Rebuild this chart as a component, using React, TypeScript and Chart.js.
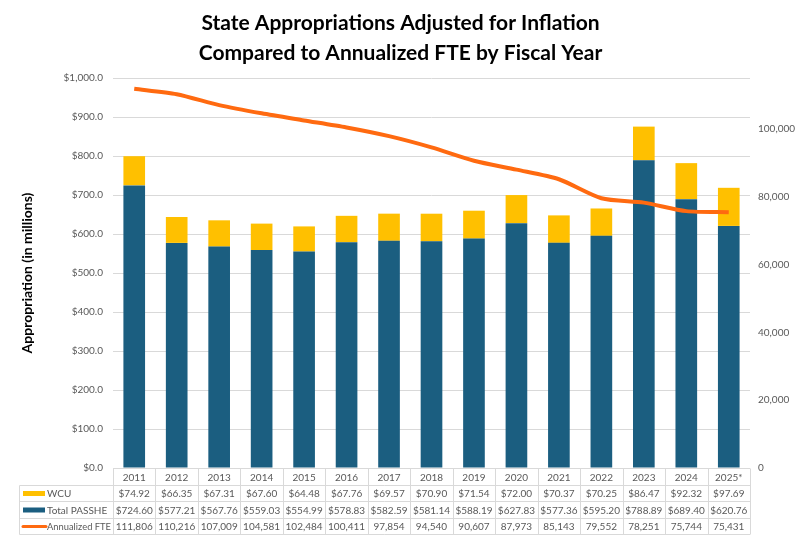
import React, { useEffect, useRef } from 'react';
import { Chart, registerables } from 'chart.js';

Chart.register(...registerables);

const years = ['2011', '2012', '2013', '2014', '2015', '2016', '2017', '2018', '2019', '2020', '2021', '2022', '2023', '2024', '2025*'];
const wcu = [74.92, 66.35, 67.31, 67.6, 64.48, 67.76, 69.57, 70.9, 71.54, 72.0, 70.37, 70.25, 86.47, 92.32, 97.69];
const passhe = [724.6, 577.21, 567.76, 559.03, 554.99, 578.83, 582.59, 581.14, 588.19, 627.83, 577.36, 595.2, 788.89, 689.4, 620.76];
const fte = [111806, 110216, 107009, 104581, 102484, 100411, 97854, 94540, 90607, 87973, 85143, 79552, 78251, 75744, 75431];
const leftTicks = [0, 100, 200, 300, 400, 500, 600, 700, 800, 900, 1000];
const rightTicks = [0, 20000, 40000, 60000, 80000, 100000];

const GOLD = '#FFC000';
const BLUE = '#1B5E80';
const ORANGE = '#FF6A10';
const GRID = '#D9D9D9';
const TEXT = '#595959';
const FONT = 'Lato';
const SMALL_SIZE = 10;

const money = (v: number) =>
  '$' + v.toLocaleString('en-US', { minimumFractionDigits: 2, maximumFractionDigits: 2 });

const tablePlugin = {
  id: 'dataTable',
  afterDraw(chart: any) {
    const ctx = chart.ctx as CanvasRenderingContext2D;
    const xs = chart.scales.x;
    const area = chart.chartArea;
    const n = years.length;
    const centers = years.map((_, i) => xs.getPixelForValue(i));
    const half = (centers[1] - centers[0]) / 2;
    const bounds = [centers[0] - half, ...centers.map((c) => c + half)];
    const top = Math.round(area.bottom) + 0.5;
    const rowH = 16.5;
    const rows = [top, top + rowH, top + 2 * rowH, top + 3 * rowH, top + 4 * rowH].map((v) => Math.round(v - 0.5) + 0.5);
    const leftX = 19.5;
    const rightX = bounds[n];

    ctx.save();
    ctx.strokeStyle = GRID;
    ctx.lineWidth = 1;
    ctx.beginPath();
    ctx.moveTo(bounds[0], rows[0]);
    ctx.lineTo(rightX, rows[0]);
    for (let r = 1; r < rows.length; r++) {
      ctx.moveTo(leftX, rows[r]);
      ctx.lineTo(rightX, rows[r]);
    }
    bounds.forEach((b) => {
      const bx = Math.round(b) + 0.5;
      ctx.moveTo(bx, rows[0]);
      ctx.lineTo(bx, rows[4]);
    });
    ctx.moveTo(leftX, rows[1]);
    ctx.lineTo(leftX, rows[4]);
    ctx.stroke();

    ctx.fillStyle = TEXT;
    ctx.font = `${SMALL_SIZE}px ${FONT}`;
    ctx.textAlign = 'center';
    ctx.textBaseline = 'middle';
    const colW = half * 2 - 4;
    const mid = (r: number) => (rows[r] + rows[r + 1]) / 2 + 0.5;
    years.forEach((y, i) => {
      ctx.fillText(y, centers[i], mid(0), colW);
      ctx.fillText(money(wcu[i]), centers[i], mid(1), colW);
      ctx.fillText(money(passhe[i]), centers[i], mid(2), colW);
      ctx.fillText(fte[i].toLocaleString('en-US'), centers[i], mid(3), colW);
    });

    // legend keys
    ctx.fillStyle = GOLD;
    ctx.fillRect(23, mid(1) - 3, 22, 5);
    ctx.fillStyle = BLUE;
    ctx.fillRect(23, mid(2) - 3, 22, 5);
    ctx.strokeStyle = ORANGE;
    ctx.lineWidth = 3;
    ctx.lineCap = 'round';
    ctx.beginPath();
    ctx.moveTo(23, mid(3) - 0.5);
    ctx.lineTo(46, mid(3) - 0.5);
    ctx.stroke();

    ctx.fillStyle = TEXT;
    ctx.textAlign = 'left';
    const labelW = bounds[0] - 47 - 2;
    ctx.fillText('WCU', 47, mid(1), labelW);
    ctx.fillText('Total PASSHE', 47, mid(2), labelW);
    ctx.fillText('Annualized FTE', 47, mid(3), labelW);
    ctx.restore();
  },
};

export default function App() {
  const ref = useRef<HTMLCanvasElement | null>(null);

  useEffect(() => {
    if (!ref.current) return;
    const chart = new Chart(ref.current, {
      type: 'bar',
      data: {
        labels: years,
        datasets: [
          {
            type: 'bar',
            label: 'Total PASSHE',
            data: passhe,
            backgroundColor: BLUE,
            yAxisID: 'y',
            order: 1,
            categoryPercentage: 1,
            barPercentage: 0.51,
          },
          {
            type: 'bar',
            label: 'WCU',
            data: wcu,
            backgroundColor: GOLD,
            yAxisID: 'y',
            order: 1,
            categoryPercentage: 1,
            barPercentage: 0.51,
          },
          {
            type: 'line',
            label: 'Annualized FTE',
            data: fte,
            borderColor: ORANGE,
            backgroundColor: ORANGE,
            borderWidth: 4,
            pointRadius: 0,
            tension: 0.25,
            yAxisID: 'y1',
            order: 0,
          } as any,
        ],
      },
      options: {
        animation: false,
        responsive: false,
        layout: { padding: { left: 0, right: 0, top: 0, bottom: 72 } },
        plugins: {
          legend: { display: false },
          tooltip: { enabled: false },
          title: {
            display: true,
            text: ['State Appropriations Adjusted for Inflation', 'Compared to Annualized FTE by Fiscal Year'],
            color: '#000',
            font: { family: FONT, size: 21, weight: 'bold', lineHeight: 30 / 21 },
            padding: { top: 8, bottom: 10 },
          },
        },
        scales: {
          x: { display: false, stacked: true, offset: true },
          y: {
            position: 'left',
            stacked: true,
            min: 0,
            max: 1000,
            afterFit: (s: any) => {
              s.width = 113;
            },
            afterBuildTicks: (s: any) => {
              s.ticks = leftTicks.map((v) => ({ value: v }));
            },
            ticks: {
              color: TEXT,
              font: { family: FONT, size: SMALL_SIZE },
              padding: 10,
              callback: (v: any) =>
                '$' + Number(v).toLocaleString('en-US', { minimumFractionDigits: 1, maximumFractionDigits: 1 }),
            },
            grid: { color: GRID, drawTicks: false },
            border: { display: false },
            title: {
              display: true,
              text: 'Appropriation (in millions)',
              color: '#000',
              font: { family: FONT, size: 14, weight: 'bold' },
              padding: { top: 19, bottom: 0 },
            },
          },
          y1: {
            position: 'right',
            min: 0,
            max: 115000,
            afterFit: (s: any) => {
              s.width = 51;
            },
            afterBuildTicks: (s: any) => {
              s.ticks = rightTicks.map((v) => ({ value: v }));
            },
            ticks: {
              color: TEXT,
              font: { family: FONT, size: SMALL_SIZE },
              padding: 8,
              callback: (v: any) => Number(v).toLocaleString('en-US'),
            },
            grid: { display: false, drawTicks: false },
            border: { display: false },
          },
        },
      },
      plugins: [tablePlugin],
    });
    return () => chart.destroy();
  }, []);

  return (
    <div style={{ position: 'absolute', left: 0, top: 0, width: 801, height: 540, background: '#fff' }}>
      <canvas ref={ref} width={801} height={540} style={{ display: 'block', width: 801, height: 540 }} />
    </div>
  );
}
